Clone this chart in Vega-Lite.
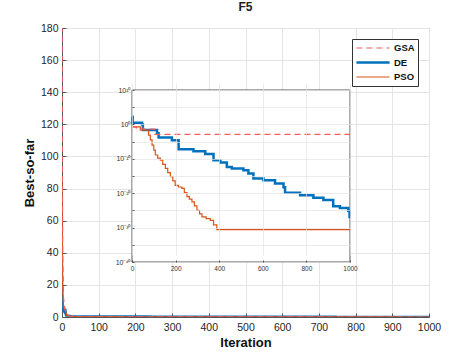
{
  "$schema": "https://vega.github.io/schema/vega-lite/v6.json",
  "width": 367,
  "height": 289,
  "autosize": {"type": "none"},
  "padding": {"left": 62, "top": 28, "right": 45, "bottom": 40},
  "title": {"text": "F5", "fontSize": 12, "fontWeight": "bold", "font": "Liberation Sans", "offset": 9, "color": "#222222"},
  "config": {
    "font": "Liberation Sans",
    "view": {"stroke": "#555555", "strokeWidth": 1},
    "legend": {
      "orient": "top-right", "offset": 11, "title": null, "fillColor": "white", "strokeColor": "#333333",
      "padding": 3, "symbolType": "stroke", "symbolSize": 1100, "clipHeight": 12, "rowPadding": 2.5,
      "labelFontSize": 9.5, "labelFontWeight": "bold", "labelOffset": 3, "labelColor": "#111111"
    }
  },
  "datasets": {
    "main": [
      {"alg": "DE", "iter": 0, "value": 14}, {"alg": "DE", "iter": 2, "value": 8}, {"alg": "DE", "iter": 4, "value": 4},
      {"alg": "DE", "iter": 7, "value": 3}, {"alg": "DE", "iter": 9, "value": 5}, {"alg": "DE", "iter": 11, "value": 1},
      {"alg": "DE", "iter": 30, "value": 0.3}, {"alg": "DE", "iter": 1000, "value": 0},
      {"alg": "PSO", "iter": 0, "value": 85}, {"alg": "PSO", "iter": 1, "value": 50}, {"alg": "PSO", "iter": 2, "value": 20},
      {"alg": "PSO", "iter": 4, "value": 6}, {"alg": "PSO", "iter": 10, "value": 4}, {"alg": "PSO", "iter": 13, "value": 1},
      {"alg": "PSO", "iter": 30, "value": 0.2}, {"alg": "PSO", "iter": 1000, "value": 0},
      {"alg": "GSA", "iter": 0, "value": 200}, {"alg": "GSA", "iter": 1, "value": 95}, {"alg": "GSA", "iter": 2, "value": 40},
      {"alg": "GSA", "iter": 4, "value": 12}, {"alg": "GSA", "iter": 8, "value": 5}, {"alg": "GSA", "iter": 12, "value": 2},
      {"alg": "GSA", "iter": 20, "value": 0.5}, {"alg": "GSA", "iter": 50, "value": 0.05}, {"alg": "GSA", "iter": 1000, "value": 0.001}
    ],
    "inset": [
      {"alg": "DE", "iter": 0, "value": 158}, {"alg": "DE", "iter": 3, "value": 3.2}, {"alg": "DE", "iter": 46, "value": 1},
      {"alg": "DE", "iter": 50, "value": 0.022}, {"alg": "DE", "iter": 115, "value": 0.0025}, {"alg": "DE", "iter": 122, "value": 1.6e-4},
      {"alg": "DE", "iter": 183, "value": 2.5e-5}, {"alg": "DE", "iter": 214, "value": 6.3e-8}, {"alg": "DE", "iter": 282, "value": 1.6e-8},
      {"alg": "DE", "iter": 336, "value": 2.5e-9}, {"alg": "DE", "iter": 374, "value": 4e-11}, {"alg": "DE", "iter": 405, "value": 8e-12},
      {"alg": "DE", "iter": 435, "value": 4e-13}, {"alg": "DE", "iter": 458, "value": 1.6e-13}, {"alg": "DE", "iter": 511, "value": 5e-14},
      {"alg": "DE", "iter": 534, "value": 5e-15}, {"alg": "DE", "iter": 557, "value": 2e-16}, {"alg": "DE", "iter": 603, "value": 6.3e-17},
      {"alg": "DE", "iter": 656, "value": 6.3e-18}, {"alg": "DE", "iter": 695, "value": 5e-19}, {"alg": "DE", "iter": 702, "value": 1.26e-20},
      {"alg": "DE", "iter": 771, "value": 2.5e-21}, {"alg": "DE", "iter": 832, "value": 5e-22}, {"alg": "DE", "iter": 878, "value": 1e-22},
      {"alg": "DE", "iter": 923, "value": 1.6e-24}, {"alg": "DE", "iter": 954, "value": 5e-25}, {"alg": "DE", "iter": 992, "value": 8e-26},
      {"alg": "DE", "iter": 998, "value": 1.26e-27}, {"alg": "DE", "iter": 1000, "value": 1.26e-27},
      {"alg": "PSO", "iter": 0, "value": 0.2}, {"alg": "PSO", "iter": 38, "value": 0.022}, {"alg": "PSO", "iter": 76, "value": 7.9e-4},
      {"alg": "PSO", "iter": 84, "value": 3.2e-5}, {"alg": "PSO", "iter": 92, "value": 1e-6}, {"alg": "PSO", "iter": 100, "value": 3.2e-8},
      {"alg": "PSO", "iter": 107, "value": 1.26e-9}, {"alg": "PSO", "iter": 118, "value": 1.6e-10}, {"alg": "PSO", "iter": 130, "value": 4e-11},
      {"alg": "PSO", "iter": 141, "value": 2.5e-12}, {"alg": "PSO", "iter": 153, "value": 1.6e-13}, {"alg": "PSO", "iter": 164, "value": 1e-14},
      {"alg": "PSO", "iter": 176, "value": 6.3e-16}, {"alg": "PSO", "iter": 187, "value": 4e-17}, {"alg": "PSO", "iter": 198, "value": 2e-18},
      {"alg": "PSO", "iter": 213, "value": 6.3e-19}, {"alg": "PSO", "iter": 229, "value": 2.5e-19}, {"alg": "PSO", "iter": 240, "value": 1.6e-20},
      {"alg": "PSO", "iter": 252, "value": 1e-21}, {"alg": "PSO", "iter": 263, "value": 2e-22}, {"alg": "PSO", "iter": 275, "value": 3.2e-23},
      {"alg": "PSO", "iter": 286, "value": 2e-24}, {"alg": "PSO", "iter": 298, "value": 1e-25}, {"alg": "PSO", "iter": 310, "value": 1e-26},
      {"alg": "PSO", "iter": 321, "value": 1.26e-27}, {"alg": "PSO", "iter": 340, "value": 4e-28}, {"alg": "PSO", "iter": 359, "value": 1.26e-28},
      {"alg": "PSO", "iter": 374, "value": 6.3e-30}, {"alg": "PSO", "iter": 389, "value": 2.5e-31}, {"alg": "PSO", "iter": 1000, "value": 2.5e-31},
      {"alg": "GSA", "iter": 0, "value": 0.2}, {"alg": "GSA", "iter": 20, "value": 0.08}, {"alg": "GSA", "iter": 50, "value": 0.04},
      {"alg": "GSA", "iter": 104, "value": 0.0013}, {"alg": "GSA", "iter": 1000, "value": 0.0013}
    ]
  },
  "layer": [
    {
      "data": {"name": "main"},
      "mark": {"type": "line", "clip": true},
      "encoding": {
        "x": {"field": "iter", "type": "quantitative",
          "scale": {"domain": [0, 1000], "nice": false},
          "axis": {"orient": "bottom", "values": [0,100,200,300,400,500,600,700,800,900,1000], "format": "d", "title": "Iteration",
            "titleFontSize": 13, "titleFontWeight": "bold", "titleColor": "#111111", "titlePadding": 4,
            "labelFontSize": 10.5, "labelColor": "#262626", "labelPadding": 9, "tickSize": -4, "tickColor": "#555555",
            "domainColor": "#555555", "grid": true, "gridColor": "#e4e4e4", "labelFlush": false}},
        "y": {"field": "value", "type": "quantitative",
          "scale": {"domain": [0, 180], "nice": false},
          "axis": {"orient": "left", "values": [0,20,40,60,80,100,120,140,160,180], "title": "Best-so-far",
            "titleFontSize": 13, "titleFontWeight": "bold", "titleColor": "#111111", "titlePadding": 4,
            "labelFontSize": 10.5, "labelColor": "#262626", "labelPadding": 8, "tickSize": -4, "tickColor": "#555555",
            "domainColor": "#555555", "grid": true, "gridColor": "#e4e4e4"}},
        "color": {"field": "alg", "type": "nominal",
          "scale": {"domain": ["GSA", "DE", "PSO"], "range": ["#F25C5C", "#0072BD", "#D95319"]}},
        "strokeDash": {"field": "alg", "type": "nominal",
          "scale": {"domain": ["GSA", "DE", "PSO"], "range": [[6, 4], [1, 0], [1, 0]]}},
        "strokeWidth": {"field": "alg", "type": "nominal",
          "scale": {"type": "ordinal", "domain": ["GSA", "DE", "PSO"], "range": [1.2, 2.5, 1.2]}}
      }
    },
    {
      "layer": [
        {
          "data": {"values": [{"x0": 0, "x1": 1000, "y0": 1e-40, "y1": 1e10}]},
          "mark": {"type": "rect", "fill": "white", "stroke": "#555555", "strokeWidth": 1},
          "encoding": {
            "x": {"field": "x0", "type": "quantitative",
              "scale": {"domain": [0, 1000], "range": [70, 288], "nice": false, "zero": false},
              "axis": {"orient": "bottom", "offset": -55, "values": [0,100,200,300,400,500,600,700,800,900,1000], "format": "d", "title": null,
                "labelFontSize": 6.5, "labelColor": "#333333", "labelPadding": 5, "tickSize": -2, "tickColor": "#555555",
                "domain": false, "grid": true, "gridColor": "#e2e2e2", "gridOpacity": 0.7, "zindex": 1, "labelFlush": false}},
            "x2": {"field": "x1"},
            "y": {"field": "y0", "type": "quantitative",
              "scale": {"type": "log", "domain": [1e-40, 1e10], "range": [234, 62], "nice": false},
              "axis": {"orient": "left", "offset": -70, "values": [1e10,1e5,1,1e-5,1e-10,1e-15,1e-20,1e-25,1e-30,1e-35,1e-40], "title": null,
                "labelExpr": "['10⁻⁴⁰','','10⁻³⁰','','10⁻²⁰','','10⁻¹⁰','','10⁰','','10¹⁰'][round(log(datum.value)/LN10/5)+8]",
                "labelFontSize": 7, "labelColor": "#333333", "labelPadding": 4, "tickSize": -2, "tickColor": "#555555",
                "domain": false, "grid": true, "gridColor": "#e2e2e2", "gridOpacity": 0.7, "zindex": 1}},
            "y2": {"field": "y1"}
          }
        },
        {
          "data": {"name": "inset"},
          "mark": {"type": "line", "interpolate": "step-after"},
          "encoding": {
            "x": {"field": "iter", "type": "quantitative"},
            "y": {"field": "value", "type": "quantitative"},
            "color": {"field": "alg", "type": "nominal",
              "scale": {"domain": ["GSA", "DE", "PSO"], "range": ["#F25C5C", "#0072BD", "#D95319"]}},
            "strokeDash": {"field": "alg", "type": "nominal",
              "scale": {"domain": ["GSA", "DE", "PSO"], "range": [[6, 4], [1, 0], [1, 0]]}},
            "strokeWidth": {"field": "alg", "type": "nominal",
              "scale": {"type": "ordinal", "domain": ["GSA", "DE", "PSO"], "range": [1.2, 2.5, 1.2]}}
          }
        }
      ]
    }
  ],
  "resolve": {"scale": {"x": "independent", "y": "independent"}, "axis": {"x": "independent", "y": "independent"}}
}
